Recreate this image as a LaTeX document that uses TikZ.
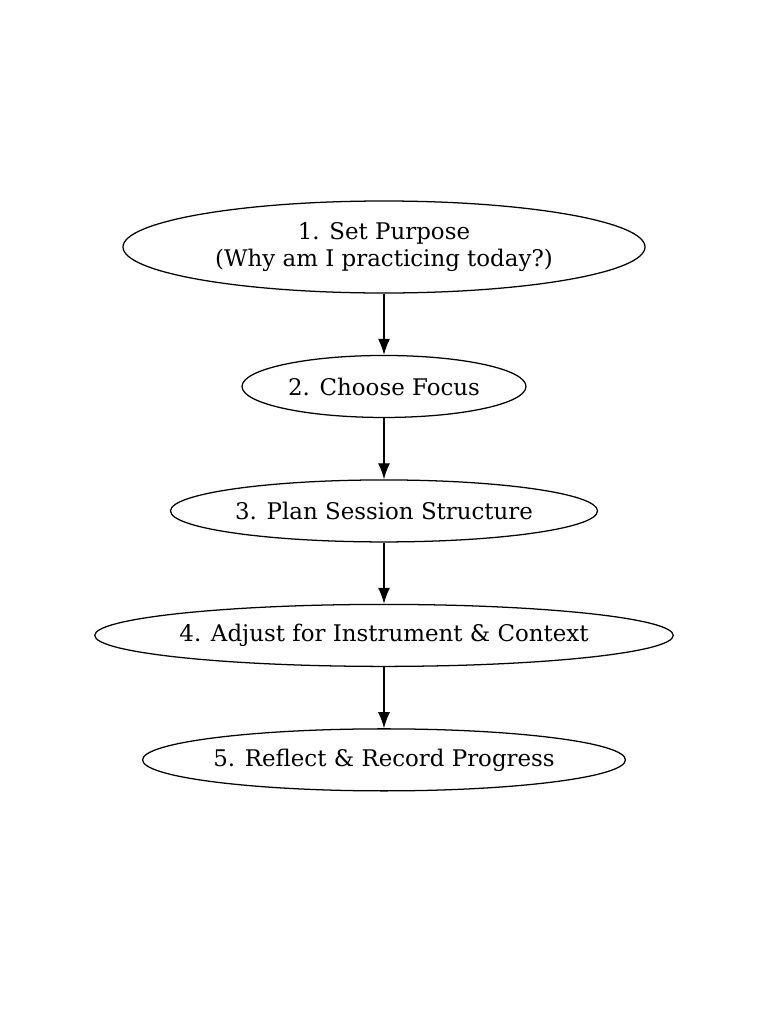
\documentclass[tikz,border=0pt]{standalone}
\usepackage{fontspec}
\setmainfont{DejaVu Serif}
\usepackage{tikz}
\usetikzlibrary{arrows.meta,positioning,shapes.geometric}

\begin{document}
\begin{tikzpicture}[node distance=15.3mm, every node/.style={font=\fontsize{16.3}{18.8}\selectfont},
    stage/.style={draw,ellipse,line width=0.9pt,inner sep=0pt,minimum height=15.5mm,align=center}]
    \useasboundingbox (0,0) rectangle (19.2,-25.6);
    \node[stage,minimum width=130.5mm,minimum height=23mm] (purpose) at (9.6,-6.175) {1. Set Purpose\\(Why am I practicing today?)};
    \node[stage,below=of purpose,minimum width=71mm] (focus) {2. Choose Focus};
    \node[stage,below=of focus,minimum width=106.75mm] (plan) {3. Plan Session Structure};
    \node[stage,below=of plan,minimum width=144mm] (adjust) {4. Adjust for Instrument \& Context};
    \node[stage,below=of adjust,minimum width=120.25mm] (reflect) {5. Reflect \& Record Progress};
    \foreach \a/\b in {purpose/focus,focus/plan,plan/adjust,adjust/reflect}
      \draw[-{Latex[length=4mm,width=3mm]},line width=0.9pt] (\a) -- (\b);
  \end{tikzpicture}
\end{document}
